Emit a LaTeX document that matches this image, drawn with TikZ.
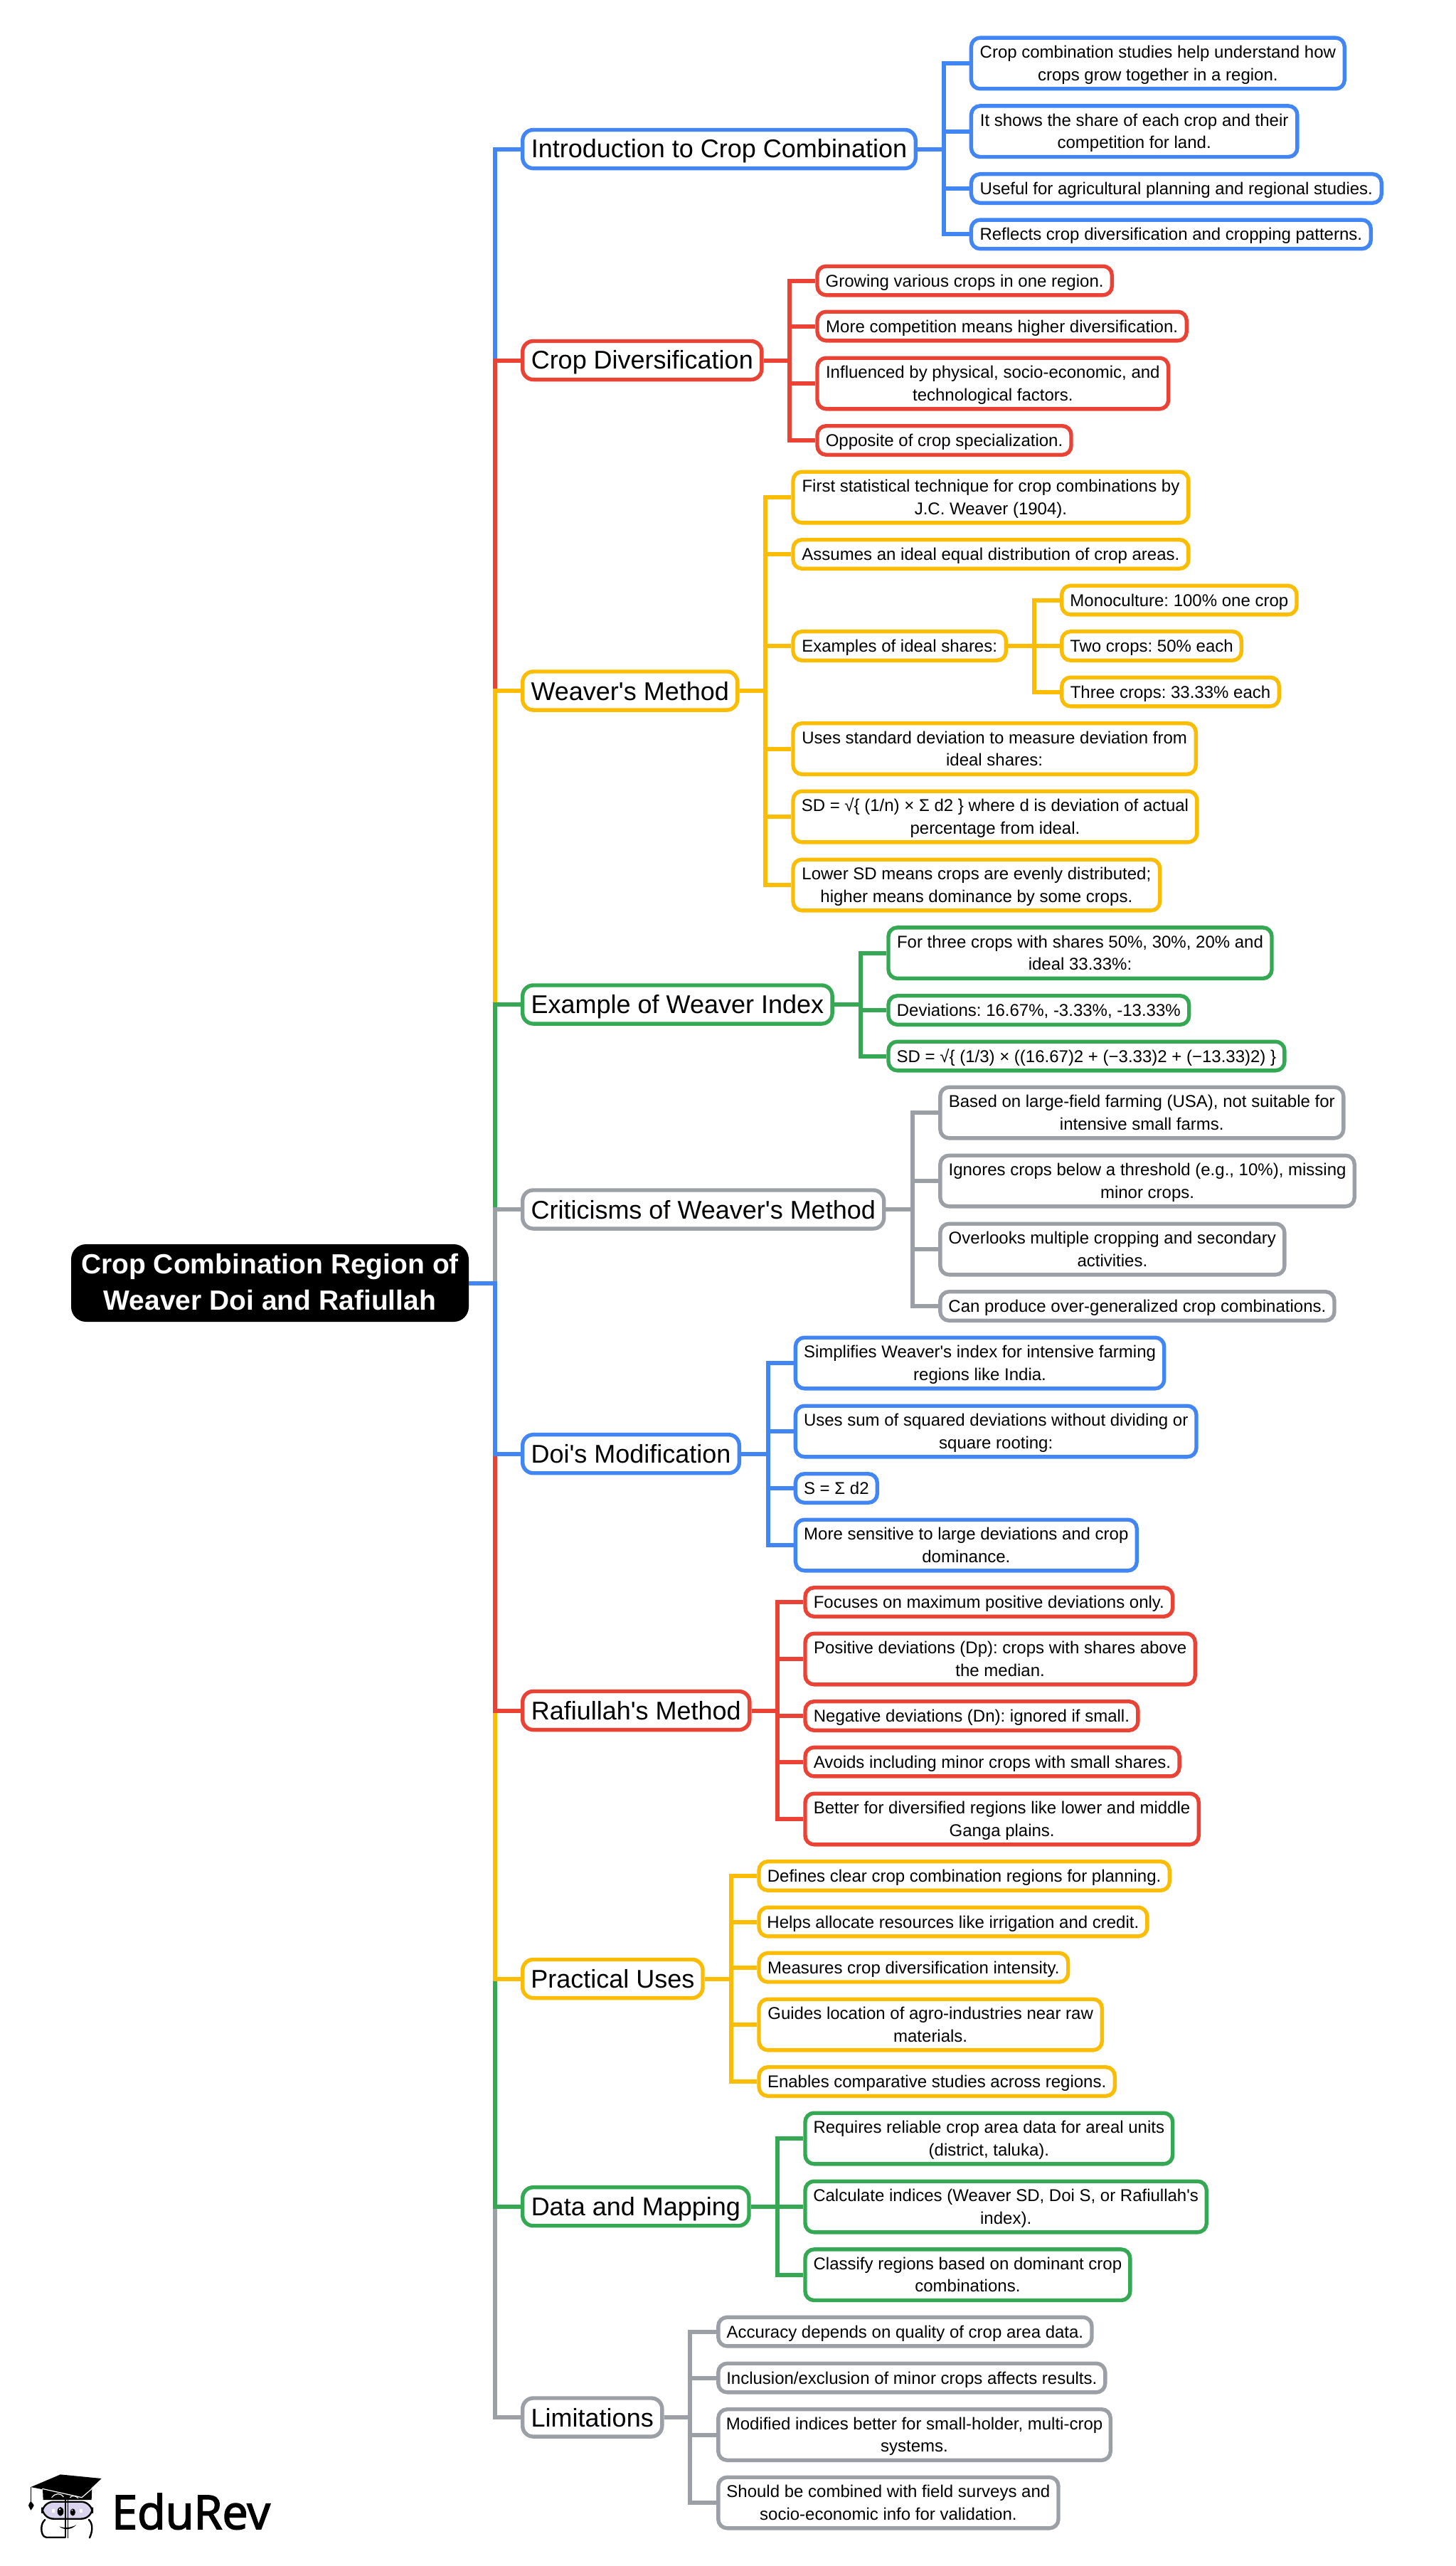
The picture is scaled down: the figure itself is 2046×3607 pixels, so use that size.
\documentclass[tikz,border=0pt]{standalone}
\usepackage{fontspec}
\setmainfont{Liberation Sans}[Ligatures=TeXOff]
\newfontfamily\logofont{Open Sans}[FakeBold=2.5,FakeStretch=0.98]
\frenchspacing
\definecolor{gblue}{HTML}{4285F4}
\definecolor{gred}{HTML}{EA4335}
\definecolor{gyellow}{HTML}{FBBC04}
\definecolor{ggreen}{HTML}{34A853}
\definecolor{ggray}{HTML}{9AA0A6}
\tikzset{
  basebox/.style={draw,fill=white,line width=5.4pt,inner sep=0pt,align=center,text=black,anchor=west},
  leafone/.style={basebox,rounded corners=12.5pt,minimum height=40.6pt,font=\fontsize{24}{31.2}\selectfont},
  leaftwo/.style={basebox,rounded corners=12.5pt,minimum height=71.6pt,font=\fontsize{24}{31.2}\selectfont},
  midbox/.style={basebox,rounded corners=15pt,minimum height=54.1pt,font=\fontsize{36}{46.8}\selectfont},
  rootbox/.style={fill=black,rounded corners=21pt,inner sep=0pt,align=center,text=white,minimum width=559pt,minimum height=109pt,font=\fontsize{39}{50.7}\selectfont\bfseries},
  conn/.style={line width=6pt,line join=miter,line cap=butt}
}
% struts fix the baselines where the reference has them
\newcommand{\nd}[7]{\node[#1,draw=#2,minimum width={#5-#4+0.7-5.4}] (#3) at (#4-0.7,#6) {\rule{0pt}{22pt}#7\rule[-5pt]{0pt}{5pt}};}
\newcommand{\md}[5]{\node[midbox,draw=#1,minimum width={#4-732-5.4}] (#2) at (732,#3) {\rule{0pt}{32pt}#5\rule[-6pt]{0pt}{6pt}};}
\newcommand{\fan}[3]{\foreach \c in {#3}{\draw[conn,#1] (#2.east) -- (#2.east -| b#2) -- (b#2 |- \c.west) -- (\c.west);}}
\newcommand{\trunk}[2]{\draw[conn,#1] (root.east) -- (root.east -| bus) -- (bus |- #2.west) -- (#2.west);}
\begin{document}
\begin{tikzpicture}[x=1pt,y=-1pt]
\useasboundingbox (0,0) rectangle (2046,3607);
\fill[white] (0,0) rectangle (2046,3607);
\coordinate (bus) at (696.4,0);
\foreach \n/\x in {intro/1326.6,div/1110.4,weav/1076,exm/1454,exi/1209.5,crit/1283,doi/1079.6,rafi/1093.3,prac/1028.3,data/1092.5,lim/970}{\coordinate (b\n) at (\x,0);}

\node[rootbox] (root) at (379.5,1803.5) {\rule{0pt}{32pt}Crop Combination Region of\\Weaver Doi and Rafiullah\rule[-6.6pt]{0pt}{6.6pt}};

% Introduction
\md{gblue}{intro}{209.6}{1290}{Introduction to Crop Combination}
\nd{leaftwo}{gblue}{i1}{1363.4}{1893}{89}{Crop combination studies help understand how\\crops grow together in a region.}
\nd{leaftwo}{gblue}{i2}{1363.4}{1826.6}{184.7}{It shows the share of each crop and their\\competition for land.}
\nd{leafone}{gblue}{i3}{1363.4}{1945}{265}{Useful for agricultural planning and regional studies.}
\nd{leafone}{gblue}{i4}{1363.4}{1930}{329.4}{Reflects crop diversification and cropping patterns.}

% Diversification
\md{gred}{div}{506.5}{1073.6}{Crop Diversification}
\nd{leafone}{gred}{g1}{1147}{1566}{394.5}{Growing various crops in one region.}
\nd{leafone}{gred}{g2}{1147}{1671}{458.5}{More competition means higher diversification.}
\nd{leaftwo}{gred}{g3}{1147}{1645.4}{539}{Influenced by physical, socio-economic, and\\technological factors.}
\nd{leafone}{gred}{g4}{1147}{1508.7}{619}{Opposite of crop specialization.}

% Weaver
\md{gyellow}{weav}{971}{1039.5}{Weaver's Method}
\nd{leaftwo}{gyellow}{w1}{1113}{1673.6}{699}{First statistical technique for crop combinations by\\J.C. Weaver (1904).}
\nd{leafone}{gyellow}{w2}{1113}{1673.6}{779}{Assumes an ideal equal distribution of crop areas.}
\nd{leafone}{gyellow}{exm}{1113}{1417}{908}{Examples of ideal shares:}
\nd{leafone}{gyellow}{m1}{1490.7}{1825.7}{843.6}{Monoculture: 100\% one crop}
\nd{leafone}{gyellow}{m2}{1490.7}{1748}{908}{Two crops: 50\% each}
\nd{leafone}{gyellow}{m3}{1490.7}{1801}{972.5}{Three crops: 33.33\% each}
\nd{leaftwo}{gyellow}{w4}{1113}{1684}{1052.5}{Uses standard deviation to measure deviation from\\ideal shares:}
\nd{leaftwo}{gyellow}{w5}{1113}{1685.6}{1148}{SD = √\{ (1/n) × Σ d2 \} where d is deviation of actual\\percentage from ideal.}
\nd{leaftwo}{gyellow}{w6}{1113}{1633.4}{1244}{Lower SD means crops are evenly distributed;\\higher means dominance by some crops.}

% Example
\md{ggreen}{exi}{1412}{1172.8}{Example of Weaver Index}
\nd{leaftwo}{ggreen}{e1}{1247}{1790.7}{1339.6}{For three crops with shares 50\%, 30\%, 20\% and\\ideal 33.33\%:}
\nd{leafone}{ggreen}{e2}{1247}{1674.4}{1420}{Deviations: 16.67\%, -3.33\%, -13.33\%}
\nd{leafone}{ggreen}{e3}{1247}{1808.6}{1484.5}{SD = √\{ (1/3) × ((16.67)2 + (−3.33)2 + (−13.33)2) \}}

% Criticisms
\md{ggray}{crit}{1700}{1245.4}{Criticisms of Weaver's Method}
\nd{leaftwo}{ggray}{c1}{1319.8}{1891.5}{1564}{Based on large-field farming (USA), not suitable for\\intensive small farms.}
\nd{leaftwo}{ggray}{c2}{1319.8}{1907}{1660}{Ignores crops below a threshold (e.g., 10\%), missing\\minor crops.}
\nd{leaftwo}{ggray}{c3}{1319.8}{1808.6}{1756}{Overlooks multiple cropping and secondary\\activities.}
\nd{leafone}{ggray}{c4}{1319.8}{1878.7}{1836}{Can produce over-generalized crop combinations.}

% Doi
\md{gblue}{doi}{2043.7}{1042}{Doi's Modification}
\nd{leaftwo}{gblue}{d1}{1116.4}{1639.4}{1916}{Simplifies Weaver's index for intensive farming\\regions like India.}
\nd{leaftwo}{gblue}{d2}{1116.4}{1684.7}{2012}{Uses sum of squared deviations without dividing or\\square rooting:}
\nd{leafone}{gblue}{d3}{1116.4}{1236}{2092}{S = Σ d2}
\nd{leaftwo}{gblue}{d4}{1116.4}{1601}{2172}{More sensitive to large deviations and crop\\dominance.}

% Rafiullah
\md{gred}{rafi}{2404.5}{1056.6}{Rafiullah's Method}
\nd{leafone}{gred}{r1}{1130}{1651.4}{2252}{Focuses on maximum positive deviations only.}
\nd{leaftwo}{gred}{r2}{1130}{1683}{2332}{Positive deviations (Dp): crops with shares above\\the median.}
\nd{leafone}{gred}{r3}{1130}{1602.6}{2412}{Negative deviations (Dn): ignored if small.}
\nd{leafone}{gred}{r4}{1130}{1660.8}{2476.6}{Avoids including minor crops with small shares.}
\nd{leaftwo}{gred}{r5}{1130}{1688}{2557}{Better for diversified regions like lower and middle\\Ganga plains.}

% Practical
\md{gyellow}{prac}{2781.5}{990.7}{Practical Uses}
\nd{leafone}{gyellow}{p1}{1065}{1647}{2637}{Defines clear crop combination regions for planning.}
\nd{leafone}{gyellow}{p2}{1065}{1615.5}{2701.5}{Helps allocate resources like irrigation and credit.}
\nd{leafone}{gyellow}{p3}{1065}{1504.4}{2765.7}{Measures crop diversification intensity.}
\nd{leaftwo}{gyellow}{p4}{1065}{1552}{2846}{Guides location of agro-industries near raw\\materials.}
\nd{leafone}{gyellow}{p5}{1065}{1570}{2926}{Enables comparative studies across regions.}

% Data
\md{ggreen}{data}{3101.7}{1055.7}{Data and Mapping}
\nd{leaftwo}{ggreen}{t1}{1130}{1651.4}{3006}{Requires reliable crop area data for areal units\\(district, taluka).}
\nd{leaftwo}{ggreen}{t2}{1130}{1699}{3102}{Calculate indices (Weaver SD, Doi S, or Rafiullah's\\index).}
\nd{leaftwo}{ggreen}{t3}{1130}{1591.5}{3197.7}{Classify regions based on dominant crop\\combinations.}

% Limitations
\md{ggray}{lim}{3398}{933.5}{Limitations}
\nd{leafone}{ggray}{l1}{1007.8}{1537.7}{3277.6}{Accuracy depends on quality of crop area data.}
\nd{leafone}{ggray}{l2}{1007.8}{1556.5}{3342.5}{Inclusion/exclusion of minor crops affects results.}
\nd{leaftwo}{ggray}{l3}{1007.8}{1564}{3422.5}{Modified indices better for small-holder, multi-crop\\systems.}
\nd{leaftwo}{ggray}{l4}{1007.8}{1490.7}{3518}{Should be combined with field surveys and\\socio-economic info for validation.}

% Trunk: outer branches first so nearer ones lie on top
\trunk{gblue}{intro}
\trunk{gred}{div}
\trunk{gyellow}{weav}
\trunk{ggreen}{exi}
\trunk{ggray}{crit}
\trunk{ggray}{lim}
\trunk{ggreen}{data}
\trunk{gyellow}{prac}
\trunk{gred}{rafi}
\trunk{gblue}{doi}

% Fans
\fan{gblue}{intro}{i1,i2,i3,i4}
\fan{gred}{div}{g1,g2,g3,g4}
\fan{gyellow}{weav}{w1,w2,exm,w4,w5,w6}
\fan{gyellow}{exm}{m1,m2,m3}
\fan{ggreen}{exi}{e1,e2,e3}
\fan{ggray}{crit}{c1,c2,c3,c4}
\fan{gblue}{doi}{d1,d2,d3,d4}
\fan{gred}{rafi}{r1,r2,r3,r4,r5}
\fan{gyellow}{prac}{p1,p2,p3,p4,p5}
\fan{ggreen}{data}{t1,t2,t3}
\fan{ggray}{lim}{l1,l2,l3,l4}

% Logo
\begin{scope}[shift={(30,3470)},x=0.3333pt,y=-0.3333pt]
  \fill[black] (90,85) -- (92,132) -- (296,132) -- (298,85) -- cycle;
  \fill[black] (40,78) -- (165,25) -- (338,42) -- (255,120) -- cycle;
  \draw[white,line width=1.2pt] (88,85) -- (255,122) -- (298,85);
  \draw[white,line width=1.2pt] (128,122) .. controls (145,102) and (165,102) .. (178,120);
  \draw[white,line width=1.2pt] (205,122) .. controls (215,112) and (230,114) .. (240,125);
  \draw[black,line width=1.3pt] (40,78) -- (40,142);
  \fill[black] (40,138) .. controls (34,146) and (30,150) .. (30,156) .. controls (32,164) and (38,168) .. (40,176) .. controls (44,168) and (52,164) .. (53,155) .. controls (52,150) and (46,146) .. (40,138) -- cycle;
  \draw[black,line width=2.4pt,fill=cyan!5!blue!14!white,rounded corners=16pt] (88,140) rectangle (300,212);
  \draw[black,line width=2.4pt,line cap=round] (186,290) -- (105,290) .. controls (90,288) and (84,270) .. (85,250) .. controls (86,235) and (90,225) .. (100,216);
  \draw[black,line width=2.4pt,line cap=round] (285,216) .. controls (298,228) and (305,255) .. (288,292);
  \draw[black,line width=2.4pt] (186,130) -- (186,292);
  \draw[black,line width=1.4pt] (196,130) -- (196,294);
  \fill[black] (165,181) ellipse [x radius=13,y radius=19];
  \fill[black] (217,184) ellipse [x radius=11,y radius=15];
  \fill[white] (162,172) circle [radius=3.5];
  \fill[white] (214,176) circle [radius=3];
  \fill[white] (128,172) rectangle (142,186);
  \fill[white] (245,172) rectangle (259,186);
  \fill[black] (160,244) .. controls (175,258) and (210,262) .. (232,237) .. controls (212,250) and (180,252) .. (160,244) -- cycle;
\end{scope}
\node[anchor=base west,inner sep=0pt,text=black,font=\logofont\fontsize{66}{66}\selectfont] (logotext) at (157,3555) {EduRev};
\end{tikzpicture}
\end{document}
